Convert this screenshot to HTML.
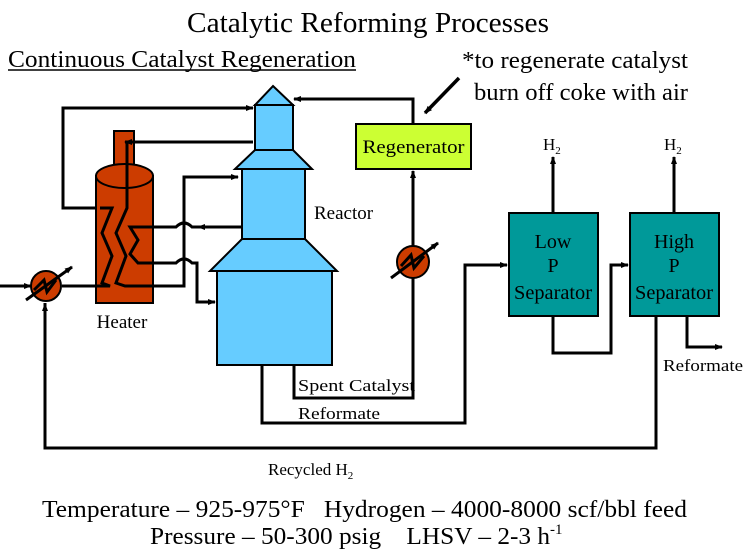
<!DOCTYPE html>
<html><head><meta charset="utf-8"><style>
html,body{margin:0;padding:0;background:#fff;}
svg{display:block;font-family:"Liberation Serif",serif;}
text{white-space:pre;}
</style></head><body>
<svg width="750" height="557" viewBox="0 0 750 557" xmlns="http://www.w3.org/2000/svg">
<defs>
<marker id="a" markerWidth="8" markerHeight="8" refX="7" refY="4" orient="auto" markerUnits="userSpaceOnUse">
<path d="M0,1 L8,4 L0,7 z" fill="#000"/></marker>
</defs>
<text x="187" y="32" font-size="28" textLength="362" lengthAdjust="spacingAndGlyphs">Catalytic Reforming Processes</text>
<text x="8" y="67" font-size="24.5" textLength="348" lengthAdjust="spacingAndGlyphs">Continuous Catalyst Regeneration</text>
<line x1="8" y1="70" x2="356" y2="70" stroke="#000" stroke-width="1.5"/>
<text x="462" y="68" font-size="24" textLength="226" lengthAdjust="spacingAndGlyphs">*to regenerate catalyst</text>
<text x="474" y="100" font-size="24" textLength="214" lengthAdjust="spacingAndGlyphs">burn off coke with air</text>
<line x1="459" y1="78" x2="425" y2="113" stroke="#000" stroke-width="3.5" marker-end="url(#a)"/>

<g stroke="#000" stroke-width="3" fill="none">
<polyline points="413,124 413,99 294,99" marker-end="url(#a)"/>
<polyline points="100,208 63,208 63,108 253,108" marker-end="url(#a)"/>
</g>

<rect x="114" y="131" width="20" height="45" fill="#cc3c00" stroke="#000" stroke-width="2"/>
<path d="M96,176 L96,303 L153,303 L153,176 Z" fill="#cc3c00" stroke="#000" stroke-width="2"/>
<ellipse cx="124.5" cy="176" rx="28.5" ry="12" fill="#cc3c00" stroke="#000" stroke-width="2"/>
<g stroke="#000" stroke-width="3" fill="none">
<polyline points="100,208 112,208 102,233 112,256 102,283 110,286 62,286"/>
<polyline points="127,142 127,208 116,233 126,256 116,283 125,286 184,286 184,177 238,177" marker-end="url(#a)"/>
<polyline points="253,142 125,142" marker-end="url(#a)"/>
<polyline points="242,227 198,227" marker-end="url(#a)"/>
<path d="M198,227 L192,227 Q184,219 176,227 L130,227 L138,240 L130,254 L138,263 L176,263 Q184,255 192,263 L197,263 L197,302 L215,302" marker-end="url(#a)"/>
</g>
<line x1="0" y1="286" x2="31" y2="286" stroke="#000" stroke-width="3" marker-end="url(#a)"/>
<circle cx="46" cy="286" r="15" fill="#cc3c00" stroke="#000" stroke-width="2"/>
<polyline points="34,290 44,280 47,292 56,280" fill="none" stroke="#000" stroke-width="3"/>
<line x1="26" y1="300" x2="72" y2="267" stroke="#000" stroke-width="3" marker-end="url(#a)"/>
<text x="122" y="328" font-size="19" text-anchor="middle">Heater</text>

<g fill="#66ccff" stroke="#000" stroke-width="2">
<polygon points="273,86 293,105 255,105"/>
<rect x="255" y="105" width="38" height="45"/>
<polygon points="255,150 293,150 312,169 235,169"/>
<rect x="242" y="169" width="63" height="70"/>
<polygon points="242,239 305,239 337,271 210,271"/>
<rect x="217" y="271" width="115" height="94"/>
</g>
<text x="314" y="219" font-size="19">Reactor</text>

<rect x="356" y="124" width="115" height="45" fill="#ccff33" stroke="#000" stroke-width="2"/>
<text x="413.5" y="153" font-size="19" text-anchor="middle" textLength="102" lengthAdjust="spacingAndGlyphs">Regenerator</text>
<g stroke="#000" stroke-width="3" fill="none">
<polyline points="294,365 294,398 413,398 413,278"/>
<polyline points="413,246 413,171" marker-end="url(#a)"/>
<polyline points="262,365 262,423 465,423 465,265 507,265" marker-end="url(#a)"/>
<polyline points="45,303 45,448 656,448 656,316"/>
<line x1="45" y1="448" x2="45" y2="304" marker-end="url(#a)"/>
<polyline points="553,316 553,353 611,353 611,265 628,265" marker-end="url(#a)"/>
<polyline points="687,316 687,347 722,347" marker-end="url(#a)"/>
<line x1="553" y1="213" x2="553" y2="157" marker-end="url(#a)"/>
<line x1="674" y1="213" x2="674" y2="157" marker-end="url(#a)"/>
</g>
<circle cx="413" cy="262" r="16" fill="#cc3c00" stroke="#000" stroke-width="2"/>
<polyline points="401,266 411,255 414,268 424,256" fill="none" stroke="#000" stroke-width="3"/>
<line x1="391" y1="278" x2="438" y2="243" stroke="#000" stroke-width="3" marker-end="url(#a)"/>
<text x="298" y="391" font-size="17" textLength="117" lengthAdjust="spacingAndGlyphs">Spent Catalyst</text>
<text x="298" y="419" font-size="17" textLength="82" lengthAdjust="spacingAndGlyphs">Reformate</text>
<text x="268" y="475" font-size="17">Recycled H<tspan font-size="11" dy="4">2</tspan></text>

<rect x="509" y="213" width="89" height="103" fill="#009999" stroke="#000" stroke-width="2"/>
<rect x="630" y="213" width="89" height="103" fill="#009999" stroke="#000" stroke-width="2"/>
<g font-size="20" text-anchor="middle">
<text x="553" y="248">Low</text><text x="553" y="272">P</text><text x="553" y="299" textLength="78" lengthAdjust="spacingAndGlyphs">Separator</text>
<text x="674" y="248">High</text><text x="674" y="272">P</text><text x="674" y="299" textLength="78" lengthAdjust="spacingAndGlyphs">Separator</text>
</g>
<text x="543" y="150" font-size="17">H<tspan font-size="11" dy="4">2</tspan></text>
<text x="664" y="150" font-size="17">H<tspan font-size="11" dy="4">2</tspan></text>
<text x="663" y="371" font-size="17" textLength="80" lengthAdjust="spacingAndGlyphs">Reformate</text>

<text x="42" y="517" font-size="24" textLength="645" lengthAdjust="spacingAndGlyphs">Temperature – 925-975°F   Hydrogen – 4000-8000 scf/bbl feed</text>
<text x="150" y="544" font-size="24"><tspan textLength="400" lengthAdjust="spacingAndGlyphs">Pressure – 50-300 psig    LHSV – 2-3 h</tspan><tspan font-size="15" dy="-10">-1</tspan></text>
</svg>
</body></html>
